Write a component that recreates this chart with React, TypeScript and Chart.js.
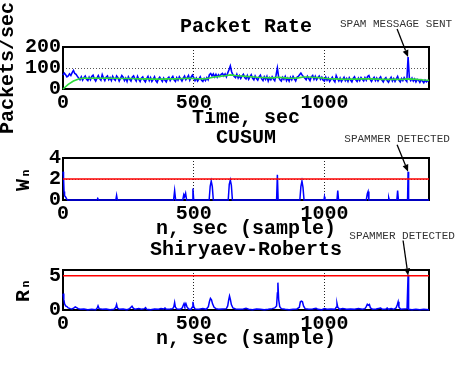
import React, { useEffect, useRef } from "react";
import { Chart, registerables } from "chart.js";
Chart.register(...registerables);

// ---------- data ----------
const X_MAX = 1400;
const xTicks = [0, 500, 1000];

// Packet rate (blue), one value every 5 s
const rateStep = 5;
const packetRate = [
  66, 76, 68, 58, 62, 72, 64, 78, 88, 74, 70, 60, 52, 44, 58, 42, 54, 62, 46, 40,
  56, 44, 60, 66, 48, 38, 52, 64, 50, 42, 68, 52, 40, 56, 62, 44, 54, 40, 60, 48,
  42, 62, 54, 38, 50, 64, 56, 40, 52, 36, 58, 46, 38, 56, 62, 48, 38, 60, 46, 36,
  52, 58, 42, 34, 50, 60, 40, 54, 36, 46, 58, 40, 32, 48, 56, 46, 36, 52, 42, 34,
  50, 56, 40, 52, 60, 44, 36, 54, 42, 58, 48, 38, 52, 62, 44, 54, 64, 42, 56, 66,
  54, 40, 52, 38, 48, 58, 42, 36, 50, 40, 54, 44, 68, 74, 62, 72, 58, 70, 56, 68,
  60, 70, 74, 62, 72, 58, 76, 92, 110, 82, 68, 60, 54, 70, 52, 64, 50, 62, 70, 54,
  48, 64, 46, 58, 68, 52, 44, 62, 50, 42, 58, 66, 48, 40, 58, 46, 60, 38, 54, 44,
  58, 48, 40, 66, 100, 56, 44, 38, 56, 46, 60, 40, 52, 38, 56, 44, 60, 48, 38, 56,
  60, 68, 76, 66, 58, 52, 44, 60, 50, 40, 58, 64, 46, 60, 44, 54, 62, 46, 56, 42,
  38, 56, 42, 52, 36, 46, 56, 42, 34, 64, 50, 38, 52, 36, 46, 56, 40, 50, 36, 54,
  42, 34, 50, 58, 44, 36, 52, 40, 54, 46, 38, 54, 42, 60, 64, 46, 36, 48, 56, 40,
  52, 38, 50, 58, 42, 34, 48, 54, 40, 32, 46, 56, 38, 50, 36, 48, 60, 42, 34, 50,
  40, 54, 44, 36, 152, 50, 40, 52, 38, 48, 34, 46, 42, 32, 44, 38, 30, 42, 34, 40,
  38,
];

// Running mean (green), one value every 20 s
const meanStep = 20;
const meanRate = [
  0, 22, 38, 48, 52, 51, 52, 51, 52, 51,
  51, 50, 50, 50, 49, 48, 48, 47, 47, 47,
  48, 48, 49, 50, 51, 50, 49, 48, 52, 57,
  60, 63, 67, 64, 62, 60, 58, 56, 55, 54,
  53, 56, 54, 52, 51, 53, 57, 57, 55, 54,
  51, 49, 48, 47, 46, 47, 47, 48, 49, 48,
  47, 46, 46, 46, 46, 46, 48, 47, 45, 43,
  42,
];
const rateTicks = [0, 100, 200];

// CUSUM statistic
const cusumT = [
  0, 2, 4, 6, 10, 14, 18,
  130, 133, 136,
  202, 205, 208,
  423, 427, 431,
  458, 462, 465, 469, 473,
  494, 497, 500,
  559, 563, 567, 571, 575,
  632, 636, 640, 644, 648,
  817, 820, 823,
  906, 910, 914, 918, 922,
  998, 1000, 1002,
  1048, 1051, 1054,
  1160, 1164, 1167, 1170,
  1244, 1246, 1248,
  1277, 1280, 1283,
  1318, 1320, 1322,
  1400,
];
const cusumV = [
  2.7, 2.2, 0.8, 0.4, 0.3, 0.1, 0,
  0, 0.15, 0,
  0, 0.45, 0,
  0, 0.9, 0,
  0, 0.5, 0.3, 0.65, 0,
  0, 1.1, 0,
  0, 1.3, 1.8, 1.3, 0,
  0, 1.5, 1.9, 1.4, 0,
  0, 2.4, 0,
  0, 1.3, 1.8, 1.2, 0,
  0, 0.3, 0,
  0, 0.9, 0,
  0, 0.6, 0.8, 0,
  0, 0.2, 0,
  0, 0.9, 0,
  0, 2.7, 0,
  0,
];
const cusumThreshold = 2;
const cusumTicks = [0, 2, 4];

// Shiryaev-Roberts statistic
const srT = [
  0, 3, 6, 10, 15, 20, 28, 35, 42, 47, 52, 58, 66, 80, 95, 110, 125, 131, 134, 138,
  150, 165, 180, 195, 202, 205, 208, 215, 230, 245, 255, 260, 264, 268, 275, 290, 300, 312, 316, 320,
  335, 350, 365, 375, 385, 390, 395, 410, 420, 424, 427, 430, 436, 448, 456, 460, 463, 466, 470, 474,
  480, 490, 494, 497, 500, 505, 520, 535, 548, 556, 560, 564, 568, 572, 578, 585, 595, 610, 625, 630,
  634, 637, 640, 644, 650, 660, 675, 690, 700, 710, 725, 740, 755, 770, 785, 800, 810, 817, 820, 822,
  825, 829, 835, 850, 865, 880, 895, 904, 908, 912, 916, 920, 926, 940, 955, 968, 975, 990, 1000, 1010,
  1025, 1040, 1045, 1048, 1051, 1058, 1070, 1085, 1100, 1115, 1130, 1145, 1155, 1160, 1164, 1168, 1172, 1176, 1185, 1198,
  1210, 1215, 1222, 1235, 1240, 1245, 1255, 1265, 1274, 1279, 1282, 1285, 1292, 1305, 1316, 1318, 1320, 1322, 1335, 1350,
  1365, 1380, 1400,
];
const srV = [
  2.4, 1.6, 0.9, 0.6, 0.5, 0.3, 0.2, 0.15, 0.3, 0.45, 0.35, 0.2, 0.1, 0.15, 0.05, 0.1, 0.05, 0.3, 0.6, 0.2,
  0.1, 0.15, 0.05, 0.1, 0.4, 0.8, 0.3, 0.1, 0.15, 0.05, 0.2, 0.4, 0.55, 0.3, 0.1, 0.2, 0.1, 0.2, 0.35, 0.1,
  0.05, 0.15, 0.1, 0.2, 0.15, 0.3, 0.1, 0.15, 0.2, 0.5, 1.1, 0.4, 0.15, 0.1, 0.3, 0.7, 0.95, 0.6, 0.95, 0.5,
  0.15, 0.1, 0.4, 1.2, 0.5, 0.15, 0.1, 0.2, 0.1, 0.5, 1.2, 1.7, 1.5, 0.9, 0.4, 0.2, 0.1, 0.15, 0.2, 0.6,
  1.5, 2.05, 1.6, 0.8, 0.3, 0.15, 0.1, 0.15, 0.25, 0.1, 0.05, 0.15, 0.1, 0.05, 0.1, 0.2, 0.3, 0.6, 2.5, 4.0,
  1.5, 0.5, 0.2, 0.1, 0.05, 0.1, 0.15, 0.4, 1.2, 1.3, 1.2, 0.6, 0.2, 0.1, 0.15, 0.25, 0.1, 0.05, 0.2, 0.1,
  0.15, 0.1, 0.4, 0.95, 0.4, 0.1, 0.2, 0.1, 0.15, 0.1, 0.2, 0.1, 0.2, 0.5, 0.85, 0.7, 0.8, 0.3, 0.1, 0.15,
  0.25, 0.3, 0.1, 0.15, 0.3, 0.1, 0.2, 0.1, 0.3, 0.8, 1.2, 0.4, 0.1, 0.15, 0.2, 0.2, 5.15, 0.1, 0.05, 0.1,
  0.05, 0.1, 0.05,
];
const srThreshold = 5;
const srTicks = [0, 5];
const srMax = 5.85;

// ---------- styling ----------
const FAMILY = "'Liberation Mono', 'DejaVu Sans Mono', monospace";
const bigFont = { family: FAMILY, size: 20, weight: "bold" as const, lineHeight: 1 };
const BLUE = "#0000ff";
const GREEN = "#2edc3c";
const RED = "#ff0000";

const framePlugin = {
  id: "frame",
  beforeDatasetsDraw(chart: any) {
    const { ctx, chartArea: a } = chart;
    ctx.save();
    ctx.strokeStyle = "#000";
    ctx.lineWidth = 2;
    ctx.strokeRect(a.left, a.top, a.right - a.left, a.bottom - a.top);
    ctx.restore();
  },
};

const notePlugin = {
  id: "note",
  afterDatasetsDraw(chart: any, _args: any, o: any) {
    if (!o || !o.text) return;
    const { ctx } = chart;
    const tx = chart.scales.x.getPixelForValue(o.x);
    const ty = chart.scales.y.getPixelForValue(o.y);
    const sx = tx + o.tailDx;
    const sy = ty + o.tailDy;
    ctx.save();
    ctx.strokeStyle = "#000";
    ctx.fillStyle = "#000";
    ctx.lineWidth = 1.3;
    const ang = Math.atan2(ty - sy, tx - sx);
    const hl = 7;
    const hw = 3;
    const bx = tx - hl * Math.cos(ang);
    const by = ty - hl * Math.sin(ang);
    ctx.beginPath();
    ctx.moveTo(sx, sy);
    ctx.lineTo(bx, by);
    ctx.stroke();
    ctx.beginPath();
    ctx.moveTo(tx, ty);
    ctx.lineTo(bx + hw * Math.sin(ang), by - hw * Math.cos(ang));
    ctx.lineTo(bx - hw * Math.sin(ang), by + hw * Math.cos(ang));
    ctx.closePath();
    ctx.fill();
    ctx.font = `11px ${FAMILY}`;
    ctx.fillStyle = "#333";
    ctx.textAlign = "center";
    ctx.textBaseline = "middle";
    ctx.fillText(o.text, tx + o.textDx, ty + o.textDy);
    ctx.restore();
  },
};

const gridColor = (color: string, lo: number, hi: number) => (c: any) => {
  const v = c.tick ? c.tick.value : lo;
  return v <= lo || v >= hi ? "rgba(0,0,0,0)" : color;
};

function lineDs(points: { x: number; y: number }[], color: string, width: number) {
  return {
    data: points,
    borderColor: color,
    backgroundColor: color,
    borderWidth: width,
    pointRadius: 0,
    tension: 0,
    fill: false,
    clip: false as const,
  };
}

const plainLabel = (v: any) => String(v);

function makeConfig(p: any) {
  return {
    type: "line" as const,
    data: { datasets: p.datasets },
    options: {
      responsive: false,
      animation: false as const,
      devicePixelRatio: 1,
      events: [],
      layout: { padding: { top: p.padTop, bottom: p.padBottom, left: 0, right: 45 } },
      plugins: {
        legend: { display: false },
        tooltip: { enabled: false },
        title: {
          display: true,
          text: p.title,
          font: bigFont,
          color: "#000",
          fullSize: false,
          padding: { top: 0, bottom: 10 },
        },
        note: p.note,
      },
      scales: {
        x: {
          type: "linear" as const,
          min: 0,
          max: X_MAX,
          afterBuildTicks: (s: any) => {
            s.ticks = xTicks.map((v) => ({ value: v }));
          },
          afterFit: (s: any) => {
            s.height = 39;
          },
          ticks: { padding: 4, color: "#000", font: bigFont, maxRotation: 0, autoSkip: false, callback: plainLabel },
          grid: { color: gridColor("#222", 0, X_MAX), drawTicks: false, lineWidth: 1 },
          border: { display: false, dash: [1, 2] },
          title: { display: true, text: p.xTitle, font: bigFont, color: "#000", padding: 0 },
        },
        y: {
          type: "linear" as const,
          min: 0,
          max: p.yMax,
          afterBuildTicks: (s: any) => {
            s.ticks = p.yTicks.map((v: number) => ({ value: v }));
          },
          afterFit: (s: any) => {
            s.width = 63;
          },
          ticks: { padding: 2, color: "#000", font: bigFont, autoSkip: false, callback: plainLabel },
          grid: { color: gridColor("#555", 0, p.yMax), drawTicks: false, lineWidth: 1 },
          border: { display: false, dash: [1, 2] },
          title: {
            display: true,
            text: p.yTitle,
            font: bigFont,
            color: "#000",
            padding: { top: p.yTitlePad, bottom: 0 },
          },
        },
      },
    },
    plugins: [framePlugin, notePlugin],
  };
}

const ratePts = packetRate.map((v, i) => ({ x: i * rateStep, y: v }));
const meanPts = meanRate.map((v, i) => ({ x: i * meanStep, y: v }));
const cusumPts = cusumT.map((t, i) => ({ x: t, y: cusumV[i] }));
const srPts = srT.map((t, i) => ({ x: t, y: srV[i] }));

const panels = [
  {
    title: "Packet Rate",
    xTitle: "Time, sec",
    yTitle: "Packets/sec",
    yTitlePad: -2,
    yMax: 200,
    yTicks: rateTicks,
    padTop: 17,
    padBottom: 242,
    datasets: [lineDs(meanPts, GREEN, 1.6), lineDs(ratePts, BLUE, 1.6)],
    note: { text: "SPAM MESSAGE SENT", x: 1320, y: 152, tailDx: -11, tailDy: -28, textDx: -12, textDy: -33 },
  },
  {
    title: "CUSUM",
    xTitle: "n, sec (sample)",
    yTitle: "W\u2099",
    yTitlePad: 14,
    yMax: 4,
    yTicks: cusumTicks,
    padTop: 128,
    padBottom: 131,
    datasets: [
      lineDs([{ x: 0, y: cusumThreshold }, { x: X_MAX, y: cusumThreshold }], RED, 1.5),
      lineDs(cusumPts, BLUE, 1.5),
    ],
    note: { text: "SPAMMER DETECTED", x: 1320, y: 2.7, tailDx: -11, tailDy: -27, textDx: -11, textDy: -33 },
  },
  {
    title: "Shiryaev-Roberts",
    xTitle: "n, sec (sample)",
    yTitle: "R\u2099",
    yTitlePad: 14,
    yMax: srMax,
    yTicks: srTicks,
    padTop: 240,
    padBottom: 21,
    datasets: [
      lineDs([{ x: 0, y: srThreshold }, { x: X_MAX, y: srThreshold }], RED, 1.5),
      lineDs(srPts, BLUE, 1.5),
    ],
    note: { text: "SPAMMER DETECTED", x: 1320, y: 5.05, tailDx: -5, tailDy: -35, textDx: -6, textDy: -39 },
  },
];

function Panel({ spec }: { spec: any }) {
  const ref = useRef<HTMLCanvasElement | null>(null);
  useEffect(() => {
    if (!ref.current) return;
    const chart = new Chart(ref.current, makeConfig(spec) as any);
    return () => chart.destroy();
  }, [spec]);
  return (
    <canvas
      ref={ref}
      width={474}
      height={370}
      style={{ position: "absolute", left: 0, top: 0, width: 474, height: 370 }}
    />
  );
}

export default function App() {
  return (
    <div style={{ position: "absolute", left: 0, top: 0, width: 474, height: 370, background: "#fff" }}>
      {panels.map((p, i) => (
        <Panel key={i} spec={p} />
      ))}
    </div>
  );
}
